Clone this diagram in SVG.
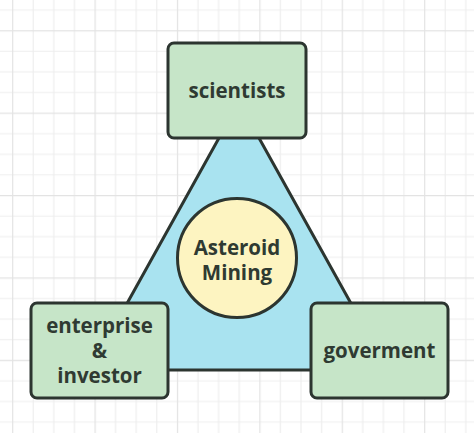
<svg xmlns="http://www.w3.org/2000/svg" width="474" height="433" viewBox="0 0 474 433">
  <defs>
    <pattern id="grid" patternUnits="userSpaceOnUse" x="94.5" y="30.2" width="82.4" height="82.4">
      <path d="M21.1 0V82.4M41.7 0V82.4M62.3 0V82.4M0 21.1H82.4M0 41.7H82.4M0 62.3H82.4" stroke="#eeeeee" stroke-width="1.2" fill="none"/>
      <path d="M0.5 0V82.4M0 0.5H82.4" stroke="#e3e3e3" stroke-width="1.4" fill="none"/>
    </pattern>
    <style>
      .box { fill: #c6e5c8; stroke: #2c3530; stroke-width: 3; }
      .lbl { font-family: "Open Sans", "Noto Sans", "DejaVu Sans", sans-serif; font-weight: 700; font-size: 20.5px; fill: #2f3a32; text-anchor: middle; }
    </style>
  </defs>
  <rect width="474" height="433" fill="#ffffff"/>
  <rect width="474" height="433" fill="url(#grid)"/>

  <g id="connectors">
    <polygon id="triangle" points="239,102 90,370 388,370" fill="#a9e3f0" stroke="#2c3530" stroke-width="3" stroke-linejoin="round"/>
  </g>

  <g id="asteroid-mining">
    <circle cx="237" cy="258" r="59.5" fill="#fdf4c1" stroke="#2c3530" stroke-width="3"/>
    <text class="lbl" x="237" y="255">Asteroid</text>
    <text class="lbl" x="237" y="280">Mining</text>
  </g>

  <g id="scientists">
    <rect class="box" x="168" y="43" width="138" height="95" rx="6"/>
    <text class="lbl" x="237" y="98">scientists</text>
  </g>

  <g id="enterprise-investor">
    <rect class="box" x="31" y="303" width="137" height="95" rx="6"/>
    <text class="lbl" x="99.5" y="333">enterprise</text>
    <text class="lbl" x="99.5" y="358">&amp;</text>
    <text class="lbl" x="99.5" y="383">investor</text>
  </g>

  <g id="goverment">
    <rect class="box" x="311" y="303" width="137" height="95" rx="6"/>
    <text class="lbl" x="379.5" y="358">goverment</text>
  </g>
</svg>
